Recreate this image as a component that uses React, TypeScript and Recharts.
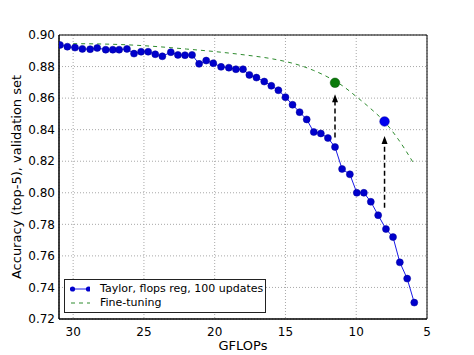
import React from "react";
import {
  CartesianGrid,
  Line,
  LineChart,
  ReferenceArea,
  ReferenceDot,
  ReferenceLine,
  XAxis,
  YAxis,
} from "recharts";

// Taylor pruning curve (GFLOPs vs top-5 accuracy)
const taylorFlops = [
  30.93, 30.41, 29.87, 29.35, 28.8, 28.3, 27.7, 27.2, 26.75, 26.2, 25.7, 25.2,
  24.7, 24.2, 23.7, 23.1, 22.6, 22.1, 21.6, 21.1, 20.6, 20.1, 19.55, 19.0, 18.5,
  18.0, 17.55, 17.05, 16.5, 16.0, 15.5, 15.0, 14.5, 14.0, 13.5, 13.0, 12.5, 12.0,
  11.5, 11.0, 10.45, 9.96, 9.46, 8.97, 8.45, 7.9, 7.4, 6.92, 6.4, 5.9,
];
const taylorAcc = [
  0.8937, 0.8926, 0.892, 0.8912, 0.891, 0.8918, 0.8907, 0.8907, 0.8907, 0.8912,
  0.8882, 0.8894, 0.8894, 0.8878, 0.8865, 0.8891, 0.8874, 0.8872, 0.8874,
  0.8817, 0.8838, 0.8821, 0.8798, 0.8793, 0.8783, 0.8783, 0.8747, 0.873,
  0.8705, 0.8678, 0.865, 0.8606, 0.8558, 0.8511, 0.8465, 0.8385, 0.8376,
  0.8347, 0.829, 0.8151, 0.8117, 0.8, 0.8, 0.7943, 0.7858, 0.777, 0.7719,
  0.7559, 0.7456, 0.7304,
];

// fine-tuning curve
const fineFlops = [30, 28, 26, 24, 22, 20, 18, 16, 15, 14, 13, 12, 11, 10, 9, 8, 7, 6];
const fineAcc = [
  0.8945, 0.8943, 0.8937, 0.8926, 0.8911, 0.8895, 0.8875, 0.885, 0.8832,
  0.8808, 0.8775, 0.8733, 0.868, 0.861, 0.8535, 0.845, 0.8335, 0.8195,
];

// highlighted points and arrows: [flops, from acc, to acc]
const greenPoint = { x: 11.5, y: 0.8697 };
const bluePoint = { x: 8.0, y: 0.8452 };
const greenArrow = [11.5, 0.835, 0.8625];
const blueArrow = [8.0, 0.7905, 0.836];

const xTicks = [30, 25, 20, 15, 10, 5];
const yTicks = [0.72, 0.74, 0.76, 0.78, 0.8, 0.82, 0.84, 0.86, 0.88, 0.9];

const taylorData = taylorFlops.map((x, i) => ({ x, acc: taylorAcc[i] }));
const fineData = fineFlops.map((x, i) => ({ x, acc: fineAcc[i] }));

const font = "DejaVu Sans";

const ArrowHead = (props: any) => {
  const { cx, cy } = props;
  return (
    <polygon
      points={`${cx},${cy} ${cx - 3},${cy + 8} ${cx + 3},${cy + 8}`}
      fill="#000"
    />
  );
};

export default function App() {
  return (
    <div style={{ position: "absolute", left: 0, top: 0, width: 474, height: 355, background: "#fff", fontFamily: font }}>
      <LineChart
        width={474}
        height={355}
        margin={{ top: 35, right: 47, bottom: 0, left: 0 }}
      >
        <CartesianGrid stroke="#a8a8a8" strokeDasharray="1 2" />
        <XAxis
          type="number"
          dataKey="x"
          domain={[5, 31]}
          reversed
          ticks={xTicks}
          allowDataOverflow
          height={36}
          stroke="#000"
          tickLine={false}
          tick={{ fill: "#000", fontSize: 12, fontFamily: font }}
          label={{ value: "GFLOPs", position: "insideBottom", offset: 5, fill: "#000", fontSize: 13, fontFamily: font }}
        />
        <YAxis
          type="number"
          domain={[0.72, 0.9]}
          ticks={yTicks}
          allowDataOverflow
          width={59}
          stroke="#000"
          tickLine={false}
          tickSize={2}
          tickMargin={2}
          tickFormatter={(v: number) => v.toFixed(2)}
          tick={{ fill: "#000", fontSize: 12, fontFamily: font }}
          label={{
            value: "Accuracy (top-5), validation set",
            angle: -90,
            position: "insideLeft",
            offset: 16,
            style: { textAnchor: "middle" },
            fill: "#000",
            fontSize: 13,
            fontFamily: font,
          }}
        />
        <ReferenceArea x1={31} x2={5} y1={0.72} y2={0.9} fill="none" stroke="#000" strokeWidth={1} />
        <Line
          data={fineData}
          dataKey="acc"
          type="monotone"
          stroke="#2e8b2e"
          strokeWidth={1}
          strokeDasharray="4 4"
          dot={false}
          isAnimationActive={false}
        />
        <Line
          data={taylorData}
          dataKey="acc"
          type="linear"
          stroke="#1a1ae6"
          strokeWidth={1}
          dot={{ r: 3.5, fill: "#0000cc", stroke: "#00009a", strokeWidth: 0.5 }}
          isAnimationActive={false}
        />
        <ReferenceLine
          segment={[{ x: greenArrow[0], y: greenArrow[1] }, { x: greenArrow[0], y: greenArrow[2] - 0.002 }]}
          stroke="#000"
          strokeWidth={1.5}
          strokeDasharray="5 3"
        />
        <ReferenceLine
          segment={[{ x: blueArrow[0], y: blueArrow[1] }, { x: blueArrow[0], y: blueArrow[2] - 0.002 }]}
          stroke="#000"
          strokeWidth={1.5}
          strokeDasharray="5 3"
        />
        <ReferenceDot x={greenArrow[0]} y={greenArrow[2]} shape={ArrowHead} />
        <ReferenceDot x={blueArrow[0]} y={blueArrow[2]} shape={ArrowHead} />
        <ReferenceDot x={greenPoint.x} y={greenPoint.y} r={4.8} fill="#0a7a0a" stroke="#045004" strokeWidth={0.5} />
        <ReferenceDot x={bluePoint.x} y={bluePoint.y} r={4.8} fill="#0000ee" stroke="#00009a" strokeWidth={0.5} />
      </LineChart>
      <div
        style={{
          position: "absolute",
          left: 64,
          top: 279,
          width: 200,
          height: 32,
          border: "1px solid #222",
          background: "#fff",
          fontSize: 11,
          lineHeight: "14px",
          color: "#000",
        }}
      >
        <div style={{ position: "absolute", left: 5, top: 2, display: "flex", alignItems: "center" }}>
          <svg width={20} height={14}>
            <line x1={2} y1={7} x2={19} y2={7} stroke="#1a1ae6" strokeWidth={1} />
            <circle cx={2.5} cy={7} r={2.6} fill="#0000cc" />
            <circle cx={18.5} cy={7} r={2.6} fill="#0000cc" />
          </svg>
          <span style={{ marginLeft: 10 }}>Taylor, flops reg, 100 updates</span>
        </div>
        <div style={{ position: "absolute", left: 5, top: 16, display: "flex", alignItems: "center" }}>
          <svg width={20} height={14}>
            <line x1={1} y1={7} x2={20} y2={7} stroke="#2e8b2e" strokeWidth={1} strokeDasharray="4 4" />
          </svg>
          <span style={{ marginLeft: 10 }}>Fine-tuning</span>
        </div>
      </div>
    </div>
  );
}
